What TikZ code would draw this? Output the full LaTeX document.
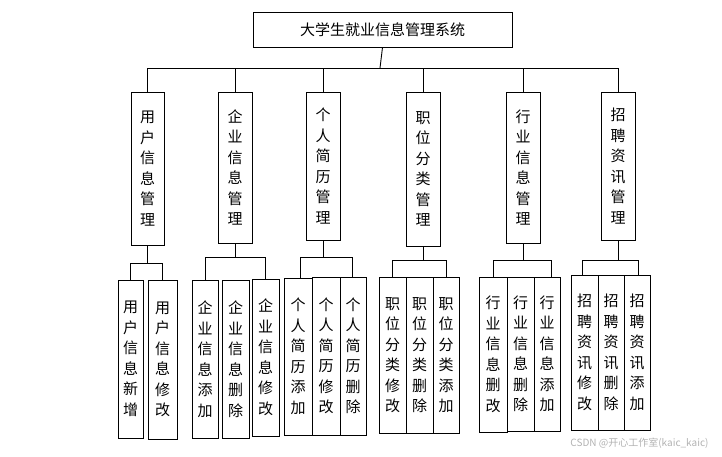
\documentclass[tikz,border=0pt]{standalone}
\usepackage{fontspec}
\newfontfamily\cjk{Noto Sans CJK SC}
\begin{document}
\begin{tikzpicture}[x=1pt,y=-1pt,
  box/.style={draw,line width=0.9pt,inner sep=0pt,font=\cjk\fontsize{15}{20.5}\selectfont,align=center},
  ln/.style={line width=0.9pt}]
\useasboundingbox (0,0) rectangle (722,457);
\newcommand\bx[6]{\node[box,minimum width=#4-#2,minimum height=#5-#3] (#1) at ({(#2+#4)/2},{(#3+#5)/2}) {#6};}
\bx{t}{253}{12}{512}{47}{\fontsize{15}{18}\selectfont 大学生就业信息管理系统}
\bx{a}{131}{92}{164}{245}{用\\户\\信\\息\\管\\理}
\bx{b}{218}{92}{252}{243}{企\\业\\信\\息\\管\\理}
\bx{c}{306}{92}{340}{240}{个\\人\\简\\历\\管\\理}
\bx{d}{406}{92}{440}{246}{职\\位\\分\\类\\管\\理}
\bx{e}{506}{92}{540}{243}{行\\业\\信\\息\\管\\理}
\bx{f}{601}{92}{635}{240}{招\\聘\\资\\讯\\管\\理}
\coordinate (tb) at (380,68);
\draw[ln] (t.south) -- (tb);
\draw[ln] (a.north) -- (a.north |- tb) -- (f.north |- tb) -- (f.north);
\foreach \n in {b,c,d,e} \draw[ln] (\n.north) -- (\n.north |- tb);
% leaves
\bx{a1}{118}{280}{143}{438}{用\\户\\信\\息\\新\\增}
\bx{a2}{148}{280}{177}{439}{用\\户\\信\\息\\修\\改}
\bx{b1}{192}{280}{218}{438}{企\\业\\信\\息\\添\\加}
\bx{b2}{222}{280}{249}{438}{企\\业\\信\\息\\删\\除}
\bx{b3}{252}{279}{279}{436}{企\\业\\信\\息\\修\\改}
\bx{c1}{284}{278}{312}{435}{个\\人\\简\\历\\添\\加}
\bx{c2}{312}{277}{340}{435}{个\\人\\简\\历\\修\\改}
\bx{c3}{340}{277}{366}{435}{个\\人\\简\\历\\删\\除}
\bx{d1}{379}{277}{406}{433}{职\\位\\分\\类\\修\\改}
\bx{d2}{406}{277}{433}{433}{职\\位\\分\\类\\删\\除}
\bx{d3}{433}{277}{459}{433}{职\\位\\分\\类\\添\\加}
\bx{e1}{479}{277}{507}{432}{行\\业\\信\\息\\删\\改}
\bx{e2}{507}{277}{534}{431}{行\\业\\信\\息\\删\\除}
\bx{e3}{534}{277}{560}{431}{行\\业\\信\\息\\添\\加}
\bx{f1}{571}{275}{598}{430}{招\\聘\\资\\讯\\修\\改}
\bx{f2}{598}{275}{624}{430}{招\\聘\\资\\讯\\删\\除}
\bx{f3}{624}{275}{650}{430}{招\\聘\\资\\讯\\添\\加}
% group connectors
\coordinate (ab) at (148,263);
\draw[ln] (a.south) -- (a.south |- ab);
\draw[ln] (a1.north) -- (a1.north |- ab) -- (a2.north |- ab) -- (a2.north);
\coordinate (bb) at (236,257);
\draw[ln] (b.south) -- (b.south |- bb);
\draw[ln] (b1.north) -- (b1.north |- bb) -- (b3.north |- bb) -- (b3.north);
\coordinate (cb) at (325,257);
\draw[ln] (c.south) -- (c.south |- cb);
\draw[ln] ([xshift=2pt]c1.north) -- ([xshift=2pt]c1.north |- cb) -- ([xshift=-1pt]c3.north |- cb) -- ([xshift=-1pt]c3.north);
\coordinate (db) at (423,260);
\draw[ln] (d.south) -- (d.south |- db);
\draw[ln] (d1.north) -- (d1.north |- db) -- (d3.north |- db) -- (d3.north);
\coordinate (eb) at (523,260);
\draw[ln] (e.south) -- (e.south |- eb);
\draw[ln] (e1.north) -- (e1.north |- eb) -- ([xshift=4pt]e3.north |- eb) -- ([xshift=4pt]e3.north);
\coordinate (fb) at (613,260);
\draw[ln] (f.south) -- (f.south |- fb);
\draw[ln] ([xshift=-2pt]f1.north) -- ([xshift=-2pt]f1.north |- fb) -- ([xshift=1pt]f3.north |- fb) -- ([xshift=1pt]f3.north);
\node[font=\cjk\fontsize{10}{12}\selectfont,text=black!30,anchor=east] (wm) at (712,443) {CSDN @开心工作室(kaic\_kaic)};
\end{tikzpicture}
\end{document}
